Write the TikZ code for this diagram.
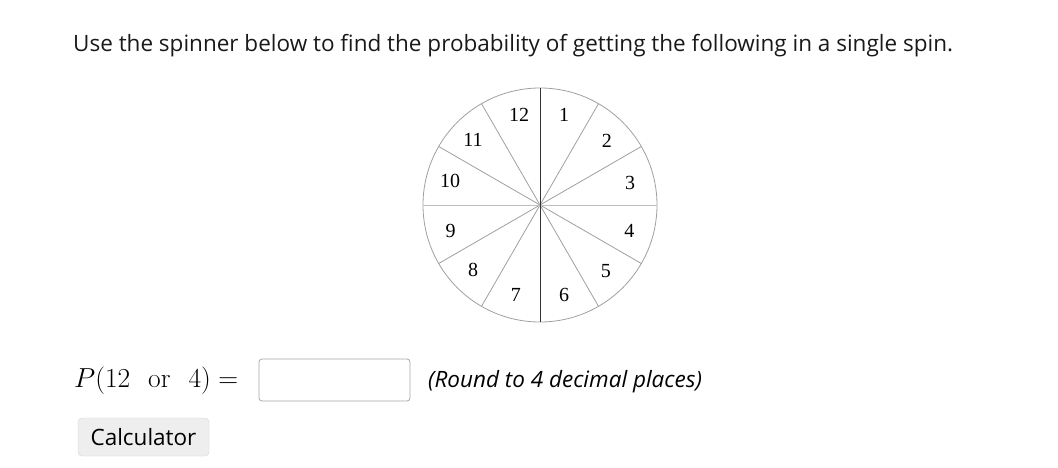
\RequirePackage{fix-cm}
\documentclass[tikz,border=0pt]{standalone}
\usepackage[no-math]{fontspec}
\setmainfont{Open Sans}
\newfontfamily\spinfont{Liberation Serif}
\usetikzlibrary{calc}
\tikzset{spoke/.style = {draw=gray!75, line width=0.8pt},
         numlabel/.style = {font=\spinfont\fontsize{20}{20}\selectfont},
         plaintext/.style = {font=\fontsize{22.5}{27}\selectfont, inner sep=0pt},
         answerbox/.style = {draw=gray!70, rounded corners=3pt, line width=0.8pt,
                             minimum width=151pt, minimum height=42pt},
         calcbutton/.style = {draw=gray!35, fill=gray!13, rounded corners=4pt,
                              minimum width=131pt, minimum height=38pt,
                              font=\fontsize{22.5}{27}\selectfont}}

\begin{document}
\begin{tikzpicture}[x=1pt, y=-1pt]
  \useasboundingbox (0,0) rectangle (1058,468);
  \node[plaintext, anchor=base west, text=black!90] (title) at (73,52)
    {Use the spinner below to find the probability of getting the following in a single spin.};
    % spinner
    \coordinate (c) at (540,205);
    \draw[spoke] (c) circle (117pt);
    \foreach \a in {30,60,120,150,210,240,300,330}
      \draw[spoke] (c) -- ++(\a:117pt);
    \draw[draw=gray!50, line width=0.8pt] ($(c)+(-117,0)$) -- ($(c)+(117,0)$);
    \draw[line width=0.8pt, black!80] ($(c)+(0,-117)$) -- ($(c)+(0,117)$);
    \foreach \a/\n in {103/12, 75/1, 44/2, 14/3, -16/4, -45/5, -75/6,
                       -105/7, -136/8, -164/9, 165/10, 136/11}
      \node[numlabel] (n\n) at ($(c)+(\a:93pt)$) {\n};
  % question line
  \node[anchor=base west, inner sep=0pt, font=\fontsize{27.5}{30}\selectfont] (prob) at (74,387)
    {$P(12\hspace{18pt}\mathrm{or}\hspace{18pt}4) =$};
  \node[answerbox] (answer) at (334.5,380) {};
  \node[plaintext, anchor=base west, font=\itshape\fontsize{22.5}{27}\selectfont] (hint) at (428,387)
    {(Round to 4 decimal places)};
  \node[calcbutton] (calc) at (143.5,437) {Calculator};
\end{tikzpicture}
\end{document}
